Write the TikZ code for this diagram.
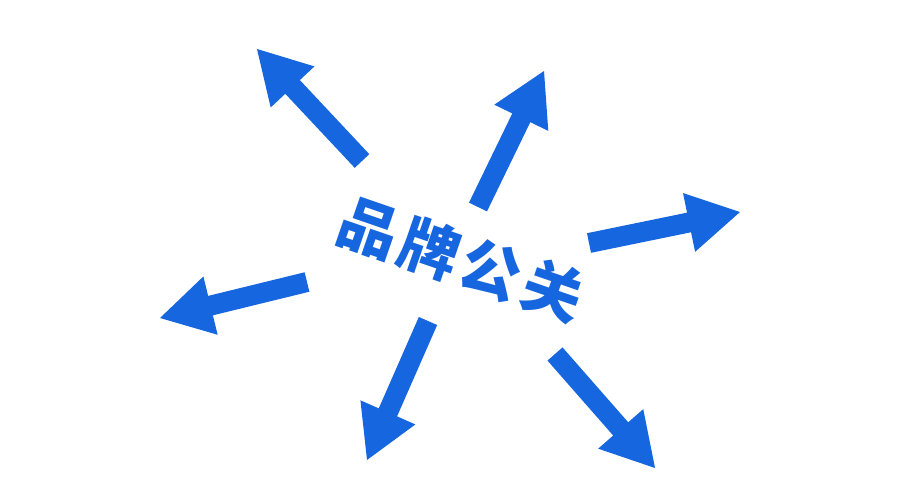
\documentclass[tikz,border=0pt]{standalone}
\usepackage{fontspec}
\newfontfamily\cjk{Noto Sans CJK SC}[LetterSpace=8]
\usetikzlibrary{calc}
\definecolor{arrowblue}{RGB}{22,102,224}
\tikzset{
  blockarrow/.style={fill=arrowblue},
  brandtext/.style={text=arrowblue, font=\cjk\bfseries\fontsize{60}{60}\selectfont, inner sep=0pt}
}
\newcommand{\barrow}[2]{%
  \fill[blockarrow] let \p1=(#1), \p2=(#2),
    \n1={atan2(\y2-\y1,\x2-\x1)},
    \n2={veclen(\x2-\x1,\y2-\y1)} in
    [shift={(\p1)}, rotate=\n1]
    (0,-10) -- ({\n2-52},-10) -- ({\n2-52},-30) -- (\n2,0) --
    ({\n2-52},30) -- ({\n2-52},10) -- (0,10) -- cycle;}
\begin{document}
\begin{tikzpicture}[x=1pt,y=-1pt]
\useasboundingbox (0,0) rectangle (900,500);
\fill[white] (0,0) rectangle (900,500);
\node[brandtext, rotate=-19] (brand) at (461,259) {品牌公关};
% arrow end points
\coordinate (t1) at (362,161); \coordinate (h1) at (257,49);
\coordinate (t2) at (478,207); \coordinate (h2) at (544,71);
\coordinate (t3) at (589,243); \coordinate (h3) at (740,212);
\coordinate (t4) at (307,282); \coordinate (h4) at (160,318);
\coordinate (t5) at (428,321); \coordinate (h5) at (367,460);
\coordinate (t6) at (555,354); \coordinate (h6) at (655,468);
\barrow{t1}{h1}
\barrow{t2}{h2}
\barrow{t3}{h3}
\barrow{t4}{h4}
\barrow{t5}{h5}
\barrow{t6}{h6}
\end{tikzpicture}
\end{document}
